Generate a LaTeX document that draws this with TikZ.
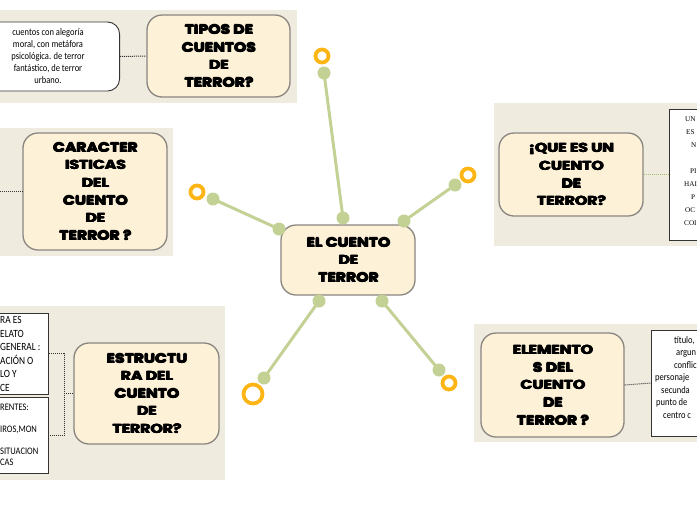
\documentclass[tikz,border=0pt]{standalone}
\usepackage{fontspec}
\newfontfamily\titlefont{Poppins}[FakeStretch=1.2]
\newfontfamily\notefont{Carlito}[FakeStretch=0.85]
\newfontfamily\capsnote{Liberation Serif}
\usetikzlibrary{positioning, calc}

\definecolor{panel}{HTML}{EFECDF}
\definecolor{topicfill}{HTML}{FDF1D8}
\definecolor{topicline}{HTML}{8A8580}
\definecolor{spokegreen}{HTML}{C3D194}
\definecolor{ringorange}{HTML}{FDB515}
\definecolor{boxline}{HTML}{333333}
\definecolor{dotgreen}{HTML}{A9BF6C}

% extra heavy title lines
\newcommand\heavy[1]{\rlap{\hspace*{0.5pt}#1}\rlap{\hspace*{1pt}#1}\rlap{\raisebox{0.5pt}{\hspace*{0.5pt}#1}}#1}

\begin{document}
\begin{tikzpicture}[x=1pt, y=-1pt,
    topic/.style={rectangle, draw=topicline, line width=1.3pt, rounded corners=15pt,
                  fill=topicfill, align=center, inner sep=0pt,
                  font=\titlefont\bfseries\fontsize{13}{17.6}\selectfont},
    notebox/.style={rectangle, draw=boxline, line width=0.9pt, fill=white, inner sep=0pt},
    note/.style={align=center, inner sep=0pt, font=\notefont\fontsize{10}{12}\selectfont},
    link/.style={densely dotted, line width=1pt, draw=boxline},
    spoke/.style={line width=3pt, draw=spokegreen},
    knob/.style={circle, fill=spokegreen, minimum size=13pt, inner sep=0pt},
    ring/.style={circle, draw=ringorange, line width=3.8pt, minimum size=13pt, inner sep=0pt}
]
    \useasboundingbox (0,0) rectangle (697,520);
    \clip (0,0) rectangle (697,520);

    % Panels
    \fill[panel] (0,10) rectangle (297,103);
    \fill[panel] (0,128) rectangle (173,256);
    \fill[panel] (0,306) rectangle (225,480);
    \fill[panel] (494,103) rectangle (697,246);
    \fill[panel] (474,324) rectangle (697,442);

    % Main topic
    \node[topic, minimum width=134pt, minimum height=70pt] (main) at (348,260)
        {\heavy{EL CUENTO}\\\heavy{DE}\\\heavy{TERROR}};

    % Sub topics
    \node[topic, minimum width=143pt, minimum height=82pt] (tipos) at (218.5,56)
        {\heavy{TIPOS DE}\\\heavy{CUENTOS}\\\heavy{DE}\\\heavy{TERROR?}};
    \node[topic, minimum width=144pt, minimum height=117pt] (caract) at (95,191.5)
        {\heavy{CARACTER}\\\heavy{ISTICAS}\\\heavy{DEL}\\\heavy{CUENTO}\\\heavy{DE}\\\heavy{TERROR ?}};
    \node[topic, minimum width=145pt, minimum height=101pt] (estruct) at (146.5,393.5)
        {\heavy{ESTRUCTU}\\\heavy{RA DEL}\\\heavy{CUENTO}\\\heavy{DE}\\\heavy{TERROR?}};
    \node[topic, minimum width=144pt, minimum height=83pt] (quees) at (571,174.5)
        {\heavy{¡QUE ES UN}\\\heavy{CUENTO}\\\heavy{DE}\\\heavy{TERROR?}};
    \node[topic, minimum width=143pt, minimum height=104pt] (elem) at (552.5,385)
        {\heavy{ELEMENTO}\\\heavy{S DEL}\\\heavy{CUENTO}\\\heavy{DE}\\\heavy{TERROR ?}};

    % Text boxes
    \node[notebox, rounded corners=12pt, minimum width=160pt, minimum height=69pt,
          anchor=east] (tipostxt) at (120,56.5) {};
    \node[note] at (48,56) {cuentos con alegoría\\moral, con metáfora\\psicológica. de terror\\fantástico, de terror\\urbano.};

    \node[notebox, minimum width=80pt, minimum height=131pt, anchor=west] (queestxt) at (669,174.5) {};
    \node[align=left, anchor=west, inner sep=0pt, font=\capsnote\fontsize{7.2}{13}\selectfont]
        at (684,171) {\hspace*{1pt}UN\\\hspace*{2pt}ES\\\hspace*{7pt}N\\[13pt]\hspace*{6pt}PI\\HAI\\\hspace*{7pt}P\\\hspace*{1pt}OC\\COI};

    \node[notebox, minimum width=80pt, minimum height=106pt, anchor=west] (elemtxt) at (651,383) {};
    \node[align=left, anchor=west, inner sep=0pt, font=\notefont\fontsize{10}{12.5}\selectfont]
        at (655,377.5) {\hspace*{19pt}título,\\\hspace*{21pt}argun\\\hspace*{19pt}conflic\\personaje\\\hspace*{6pt}secunda\\\hspace*{1pt}punto de\\\hspace*{8pt}centro c};

    \node[notebox, minimum width=110pt, minimum height=81pt, anchor=east] (estrtxta) at (49,353.5) {};
    \node[align=left, anchor=west, inner sep=0pt, font=\notefont\fontsize{11}{13.6}\selectfont]
        at (0,354) {RA ES\\ELATO\\GENERAL :\\ACIÓN O\\LO Y\\CE};
    \node[notebox, minimum width=110pt, minimum height=76pt, anchor=east] (estrtxtb) at (49,435.5) {};
    \node[align=left, anchor=west, inner sep=0pt, font=\notefont\fontsize{10}{11}\selectfont]
        at (0,435) {RENTES:\\[11pt]IROS,MON\\[11pt]SITUACION\\CAS};

    % Dotted links
    \draw[link] (tipostxt.east) -- (tipos.west);
    \draw[link, draw=dotgreen] (quees.east) -- (queestxt.west);
    \draw[link] (elem.east) -- (elemtxt.west);
    \coordinate (lefttip) at (0,191.5);
    \draw[link] (lefttip) -- (caract.west);
    \coordinate (brace) at (64,393.5);
    \draw[link] (estrtxta.east) -- (estrtxta.east -| brace) -- (estrtxtb.east -| brace) -- (estrtxtb.east);
    \draw[link] (brace) -- (estruct.west);

    % Spokes
    \node[knob] (n1) at (343,218) {};
    \node[knob] (f1) at (324,73) {};
    \node[ring] (r1) at (322,56) {};
    \node[knob] (n2) at (404,221) {};
    \node[knob] (f2) at (455,185) {};
    \node[ring] (r2) at (468,175) {};
    \node[knob] (n3) at (279,229) {};
    \node[knob] (f3) at (213,199) {};
    \node[ring] (r3) at (197,192) {};
    \node[knob] (n4) at (319,301) {};
    \node[knob] (f4) at (264,378) {};
    \node[ring, minimum size=19pt] (r4) at (253,394) {};
    \node[knob] (n5) at (382,301) {};
    \node[knob] (f5) at (439,370) {};
    \node[ring] (r5) at (449,383) {};
    \foreach \i in {1,...,5}
        \draw[spoke] (n\i.center) -- (f\i.center);

\end{tikzpicture}
\end{document}
